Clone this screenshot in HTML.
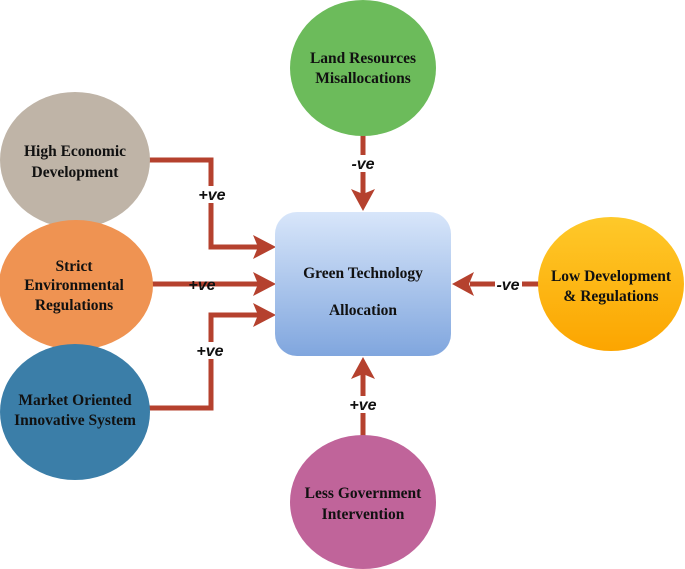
<!DOCTYPE html>
<html><head><meta charset="utf-8"><style>
html,body{margin:0;padding:0;background:#fff;}
svg{display:block}
.t{font-family:"Liberation Serif",serif;font-weight:bold;font-size:15.5px;fill:#111;text-anchor:middle}
.l{font-family:"Liberation Sans",sans-serif;font-weight:bold;font-style:italic;font-size:16px;fill:#111;text-anchor:middle}
</style></head><body>
<svg width="685" height="569" viewBox="0 0 685 569" xmlns="http://www.w3.org/2000/svg">
<defs>
<linearGradient id="bx" x1="0" y1="0" x2="0" y2="1"><stop offset="0" stop-color="#d8e6fa"/><stop offset="1" stop-color="#80a6de"/></linearGradient>
<linearGradient id="yl" x1="0" y1="0" x2="0" y2="1"><stop offset="0" stop-color="#fec92a"/><stop offset="1" stop-color="#fca500"/></linearGradient>
</defs>
<g fill="none" stroke="#b5412e" stroke-width="5">
<polyline points="148,160 211,160 211,247 258,247"/>
<line x1="150" y1="284" x2="258" y2="284"/>
<polyline points="148,408 211,408 211,315 258,315"/>
<line x1="363" y1="134" x2="363" y2="194"/>
<line x1="363" y1="437" x2="363" y2="374"/>
<line x1="540" y1="284" x2="470" y2="284"/>
</g>
<g fill="#b5412e">
<polygon points="276,247 253,235 258,247 253,259"/>
<polygon points="276,284 253,272 258,284 253,296"/>
<polygon points="276,315 253,303 258,315 253,327"/>
<polygon points="363,211 351,189 363,194 375,189"/>
<polygon points="363,357 351,379 363,374 375,379"/>
<polygon points="452,284 474,272 469,284 474,296"/>
</g>
<rect x="275" y="212" width="176" height="144" rx="22" fill="url(#bx)"/>
<text class="t" x="363" y="278">Green Technology</text>
<text class="t" x="363" y="315">Allocation</text>
<ellipse cx="363" cy="68" rx="73" ry="68" fill="#6cbb5b"/>
<text class="t" x="363" y="63">Land Resources</text><text class="t" x="363" y="83">Misallocations</text>
<ellipse cx="75" cy="160" rx="75" ry="68" fill="#bfb4a7"/>
<text class="t" x="75" y="156">High Economic</text><text class="t" x="75" y="177">Development</text>
<ellipse cx="76" cy="285" rx="77" ry="65" fill="#ef9352"/>
<text class="t" x="74" y="271">Strict</text><text class="t" x="74" y="290">Environmental</text><text class="t" x="74" y="310">Regulations</text>
<ellipse cx="75" cy="412" rx="75" ry="68" fill="#3b7ea8"/>
<text class="t" x="75" y="405">Market Oriented</text><text class="t" x="75" y="425">Innovative System</text>
<ellipse cx="611" cy="284" rx="73" ry="67" fill="url(#yl)"/>
<text class="t" x="611" y="281">Low Development</text><text class="t" x="611" y="301">&amp; Regulations</text>
<ellipse cx="363" cy="502" rx="73" ry="67" fill="#c0649a"/>
<text class="t" x="363" y="498">Less Government</text><text class="t" x="363" y="519">Intervention</text>
<g>
<rect x="197" y="186" width="30" height="17" fill="#fff"/><text class="l" x="212" y="200">+ve</text>
<rect x="196" y="342" width="30" height="17" fill="#fff"/><text class="l" x="210" y="356">+ve</text>
<rect x="349" y="155" width="28" height="17" fill="#fff"/><text class="l" x="363" y="169">-ve</text>
<rect x="348" y="396" width="30" height="17" fill="#fff"/><text class="l" x="363" y="410">+ve</text>
<rect x="495" y="277" width="27" height="15" fill="#fff"/><text class="l" x="508" y="290">-ve</text>
<text class="l" x="202" y="290">+ve</text>
</g>
</svg>
</body></html>
